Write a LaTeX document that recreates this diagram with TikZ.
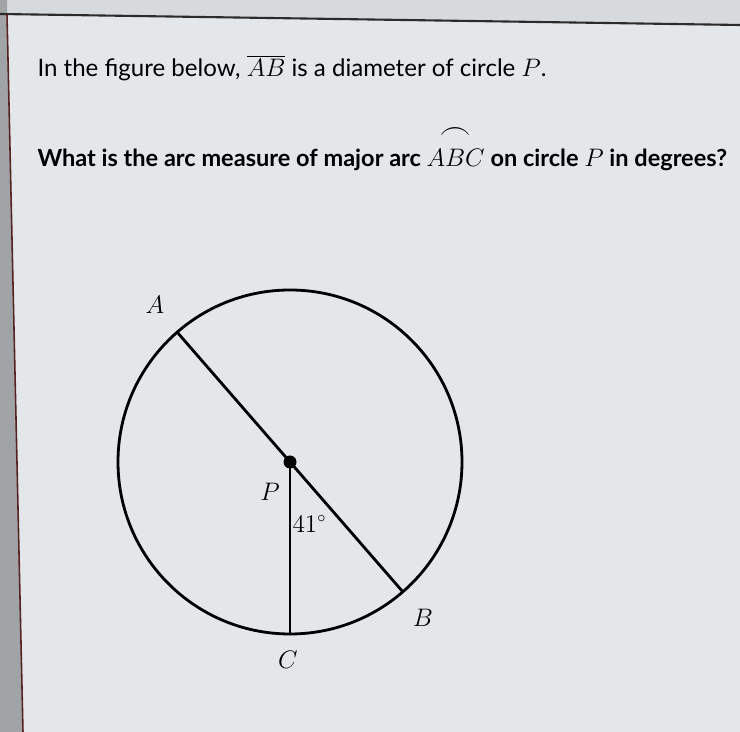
\documentclass[tikz,border=0pt]{standalone}
\usepackage{amsmath}
\usepackage{fontspec}
\setmainfont{Lato}
\usepackage{tikz}
\usetikzlibrary{calc,positioning,arrows}

\definecolor{screen}{RGB}{227,231,233}
\definecolor{bezel}{RGB}{160,164,166}
\definecolor{topband}{RGB}{214,218,220}
\definecolor{edge}{RGB}{45,42,42}

\newcommand{\bigarc}{\makebox[0pt]{\raisebox{3pt}{\scalebox{1.25}{$\frown$}}}}

\tikzset{
  qtext/.style={anchor=base west,inner sep=0pt,font=\fontsize{13.7}{16}\selectfont},
  ptlabel/.style={inner sep=0pt,font=\fontsize{13.5}{16}\selectfont}
}

\begin{document}
\begin{tikzpicture}[>=latex,semithick,x=0.02cm,y=0.02cm]
    \useasboundingbox (-290,462) rectangle (450,-270);
    \fill [screen] (-290,462) rectangle (450,-270);
    \fill [topband] (-290,462) -- (450,462) -- (450,437) -- (-290,448) -- cycle;
    \fill [bezel] (-290,462) -- (-283,462) -- (-267,-270) -- (-290,-270) -- cycle;
    \draw [edge,line width=1.2pt] (-290,448) -- (450,437);
    \draw [edge!80!red,line width=0.9pt] (-283,448) -- (-267,-270);

    \node [qtext] (line1) at (-253,385)
        {In the figure below, $\overline{AB}$ is a diameter of circle $P$.};
    \node [qtext,font=\fontsize{13.4}{16}\selectfont] (line2) at (-253,295)
        {\bfseries What is the arc measure of major arc $A{\overset{\bigarc}{B}}C$ on circle $P$ in degrees?};

    \coordinate (P) at (0,0);
    \coordinate (A) at (131:172);
    \coordinate (B) at (-49:172);
    \coordinate (C) at (-90:172);

    \draw [line width=1.6pt] (P) circle (172);
    \draw [line width=1.6pt] (A) -- (B);
    \draw [line width=1.6pt] (P) -- (C);
    \fill (P) circle (6.5);

    \node [ptlabel] (labA) at (-135,157) {$A$};
    \node [ptlabel] (labP) at (-20,-30) {$P$};
    \node [ptlabel,anchor=west] (angle) at (2,-62) {$41^\circ$};
    \node [ptlabel] (labB) at (133,-156) {$B$};
    \node [ptlabel] (labC) at (-2,-198) {$C$};
\end{tikzpicture}
\end{document}
